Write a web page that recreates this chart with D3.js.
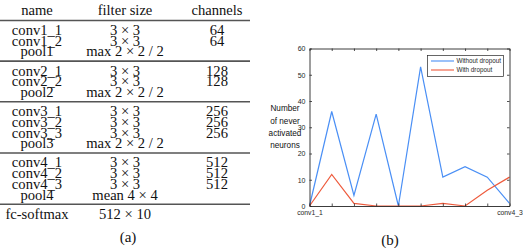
<!DOCTYPE html>
<html><head><meta charset="utf-8">
<script src="https://cdn.jsdelivr.net/npm/d3@7"></script>
<style>
html,body{margin:0;padding:0;background:#fff;}
svg{display:block;}
</style></head>
<body>
<svg id="c" width="523" height="248"></svg>
<script>
// ---- Table (a) data ----
const tableHeaders = ["name", "filter size", "channels"];
const groupNames = [
  ["conv1_1", "conv1_2", "pool1"],
  ["conv2_1", "conv2_2", "pool2"],
  ["conv3_1", "conv3_2", "conv3_3", "pool3"],
  ["conv4_1", "conv4_2", "conv4_3", "pool4"],
  ["fc-softmax"]
];
const groupFilters = [
  ["3 × 3", "3 × 3", "max 2 × 2 / 2"],
  ["3 × 3", "3 × 3", "max 2 × 2 / 2"],
  ["3 × 3", "3 × 3", "3 × 3", "max 2 × 2 / 2"],
  ["3 × 3", "3 × 3", "3 × 3", "mean 4 × 4"],
  ["512 × 10"]
];
const groupChannels = [
  ["64", "64", ""],
  ["128", "128", ""],
  ["256", "256", "256", ""],
  ["512", "512", "512", ""],
  [""]
];

// ---- Chart (b) data ----
const layers = ["conv1_1","conv1_2","conv2_1","conv2_2","conv3_1","conv3_2","conv3_3","conv4_1","conv4_2","conv4_3"];
const withoutDropout = [0, 36, 4, 35, 0, 53, 11, 15, 11, 1];
const withDropout    = [0, 12, 1, 0, 0, 0, 1, 0, 6, 11];
const seriesNames = ["Without dropout", "With dropout"];
const yTicks = [0, 10, 20, 30, 40, 50, 60];
const xLabelTicks = ["conv1_1", "conv4_3"];
const yLabelLines = ["Number", "of never", "activated", "neurons"];

const svg = d3.select("#c");
const serif = "'Liberation Serif', 'Times New Roman', serif";
const sans = "'Liberation Sans', Arial, Helvetica, sans-serif";

// ---------------- Table ----------------
const colX = [37, 125, 217];
const tg = svg.append("g");
const tfs = 14.6;
tg.selectAll("text.h").data(tableHeaders).join("text")
  .attr("x", (d,i)=>colX[i]).attr("y", 10).attr("dy","0.33em")
  .attr("text-anchor","middle").attr("font-family", serif).attr("font-size", tfs)
  .attr("fill","#111").text(d=>d);

let y = 20.5;
const rules = [y];
const rows = [];
const rowStep = 10.7, ruleGap = 9.6;
groupNames.forEach((g, gi) => {
  let ry = y + ruleGap;
  g.forEach((n, ri) => {
    rows.push({y: ry, cells: [n, groupFilters[gi][ri], groupChannels[gi][ri]]});
    if (ri < g.length - 1) ry += rowStep;
  });
  y = ry + ruleGap;
  if (gi < groupNames.length - 1) rules.push(y);
});
tg.selectAll("line.r").data(rules).join("line")
  .attr("x1", 0).attr("x2", 250).attr("y1", d=>d).attr("y2", d=>d)
  .attr("stroke", "#555").attr("stroke-width", 1.6);
rows.forEach(r => {
  r.cells.forEach((c, ci) => {
    if (!c) return;
    tg.append("text").attr("x", colX[ci]).attr("y", r.y).attr("dy","0.33em")
      .attr("text-anchor","middle").attr("font-family", serif).attr("font-size", tfs)
      .attr("fill","#111").text(c);
  });
});
tg.append("text").attr("x", 128).attr("y", 237).attr("dy","0.33em")
  .attr("text-anchor","middle").attr("font-family", serif).attr("font-size", 15)
  .attr("fill","#111").text("(a)");

// ---------------- Chart ----------------
const L = 309.5, R = 509.5, T = 48.5, B = 206;
const x = d3.scalePoint().domain(layers).range([L, R]);
const yS = d3.scaleLinear().domain([0, 60]).range([B, T]);
const axisColor = "#262626";
const cg = svg.append("g");

cg.append("rect").attr("x", L).attr("y", T).attr("width", R-L).attr("height", B-T)
  .attr("fill","#fff");

// lines
const line = d3.line().x((d,i)=>x(layers[i])).y(d=>yS(d));
cg.append("path").datum(withoutDropout).attr("d", line)
  .attr("fill","none").attr("stroke","#4a8ff5").attr("stroke-width",1.2);
cg.append("path").datum(withDropout).attr("d", line)
  .attr("fill","none").attr("stroke","#ee5a3c").attr("stroke-width",1.2);

// axes (MATLAB inward ticks)
const tk = 2.5;
const ax = d3.axisLeft(yS).tickValues(yTicks).tickSizeInner(-tk).tickSizeOuter(0).tickPadding(4);
const gL = cg.append("g").attr("transform", `translate(${L},0)`).call(ax);
const gR = cg.append("g").attr("transform", `translate(${R},0)`)
  .call(d3.axisRight(yS).tickValues(yTicks).tickSizeInner(-tk).tickSizeOuter(0).tickFormat(""));
const gB = cg.append("g").attr("transform", `translate(0,${B})`)
  .call(d3.axisBottom(x).tickSizeInner(-tk).tickSizeOuter(0).tickPadding(4)
    .tickFormat(d => xLabelTicks.includes(d) ? d : ""));
const gT = cg.append("g").attr("transform", `translate(0,${T})`)
  .call(d3.axisTop(x).tickSizeInner(-tk).tickSizeOuter(0).tickFormat(""));
[gL, gR, gB, gT].forEach(g => {
  g.select(".domain").attr("stroke", axisColor).attr("stroke-width", 0.9);
  g.selectAll(".tick line").attr("stroke", axisColor).attr("stroke-width", 0.8);
  g.selectAll("text").attr("font-family", sans).attr("font-size", 7).attr("fill", axisColor);
});
gB.selectAll("text").attr("font-size", 6.8);

// y label
cg.selectAll("text.yl").data(yLabelLines).join("text")
  .attr("x", 285).attr("y", (d,i)=>108.5 + i*12.3).attr("dy","0.35em")
  .attr("text-anchor","middle").attr("font-family", sans).attr("font-size", 8.2)
  .attr("fill", "#111").text(d=>d);

// legend
const lg = cg.append("g");
lg.append("rect").attr("x", 427.5).attr("y", 55.5).attr("width", 76).attr("height", 21)
  .attr("fill","#fff").attr("stroke", axisColor).attr("stroke-width", 0.7);
const legColors = ["#4a8ff5", "#ee5a3c"];
seriesNames.forEach((s, i) => {
  const ly = 61 + i * 9;
  lg.append("line").attr("x1", 431).attr("x2", 454).attr("y1", ly).attr("y2", ly)
    .attr("stroke", legColors[i]).attr("stroke-width", 1.1);
  lg.append("text").attr("x", 456.5).attr("y", ly).attr("dy","0.35em")
    .attr("font-family", sans).attr("font-size", 6.3).attr("fill", axisColor).text(s);
});

svg.append("text").attr("x", 390).attr("y", 240).attr("dy","0.33em")
  .attr("text-anchor","middle").attr("font-family", serif).attr("font-size", 15)
  .attr("fill","#111").text("(b)");
</script>
</body></html>
